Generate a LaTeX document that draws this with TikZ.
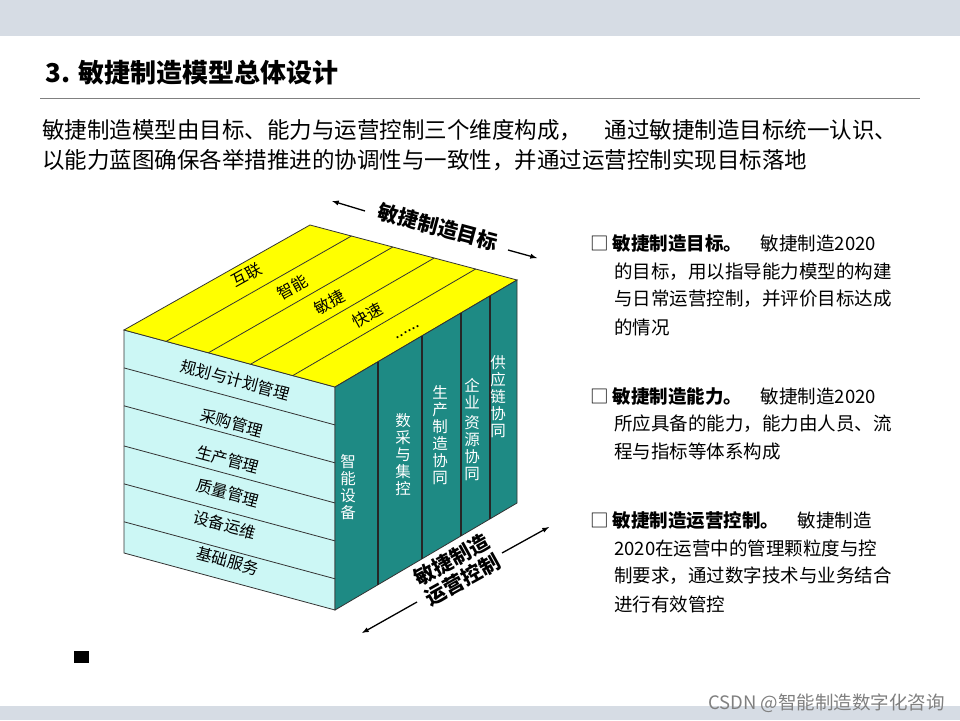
\documentclass[tikz,border=0pt]{standalone}
\usepackage{fontspec}
\setmainfont{Noto Sans CJK SC}
\usetikzlibrary{calc}
\definecolor{topbar}{HTML}{D6DCE4}
\definecolor{cyanf}{HTML}{CCF7F5}
\definecolor{tealf}{HTML}{1E8A84}
\definecolor{yel}{HTML}{FFFF00}
\begin{document}
\begin{tikzpicture}[x=1pt,y=-1pt,
  face/.style={draw=black!80,line width=0.8pt},
  frontlbl/.style={font=\fontsize{16}{18}\selectfont,rotate=-15,inner sep=0pt},
  toplbl/.style={font=\fontsize{16}{18}\selectfont,rotate=29,inner sep=0pt},
  vlbl/.style={font=\fontsize{15.5}{17}\selectfont,text=white,align=center,inner sep=0pt},
  body/.style={font=\fontsize{18.5}{20}\selectfont,anchor=west,inner sep=0pt},
  para/.style={font=\fontsize{22.5}{24}\selectfont,anchor=west,inner sep=0pt},
  dim/.style={font=\bfseries\fontsize{20.5}{23}\selectfont,align=center,inner sep=0pt},
  arr/.style={-latex,line width=1.3pt}]
\useasboundingbox (0,0) rectangle (960,720);
\fill[white] (0,0) rectangle (960,720);
\fill[topbar] (0,0) rectangle (960,36);
\fill[topbar] (0,706) rectangle (960,720);
\node[anchor=west,inner sep=0pt,font=\bfseries\fontsize{26}{28}\selectfont] (title) at (45,73) {3. 敏捷制造模型总体设计};
\draw[gray,line width=1pt] (40,98) -- (920,98);
\node[para] (p1) at (42,130) {敏捷制造模型由目标、能力与运营控制三个维度构成，\quad 通过敏捷制造目标统一认识、};
\node[para] (p2) at (42,160) {以能力蓝图确保各举措推进的协调性与一致性，并通过运营控制实现目标落地};
% cube
\coordinate (A) at (124,330); \coordinate (B) at (335,387);
\coordinate (C) at (335,610); \coordinate (D) at (124,553);
\coordinate (E) at (310,225); \coordinate (F) at (517,280);
\coordinate (G) at (517,503);
\filldraw[face,fill=cyanf] (A) -- (B) -- (C) -- (D) -- cycle;
\filldraw[face,fill=yel] (A) -- (E) -- (F) -- (B) -- cycle;
\filldraw[face,fill=tealf] (B) -- (F) -- (G) -- (C) -- cycle;
\foreach \t in {0.2,0.4,0.6,0.8}
  \draw[face] ($(A)!\t!(B)$) -- ($(E)!\t!(F)$);
\foreach \t in {0.17,0.34,0.52,0.69,0.86}
  \draw[face] ($(A)!\t!(D)$) -- ($(B)!\t!(C)$);
\foreach \t in {0.236,0.478,0.692,0.852}
  \draw[black!85,line width=1.2pt] ($(B)!\t!(F)$) -- ($(C)!\t!(G)$);
% top labels
\node[toplbl] (t1) at (247,275) {互联};
\node[toplbl] (t2) at (293,287) {智能};
\node[toplbl] (t3) at (330,302) {敏捷};
\node[toplbl] (t4) at (368,315) {快速};
\node[toplbl] (t5) at (408,332) {......};
% front labels
\node[frontlbl] (f1) at (235,380) {规划与计划管理};
\node[frontlbl] (f2) at (232,423) {采购管理};
\node[frontlbl] (f3) at (228,460) {生产管理};
\node[frontlbl] (f4) at (228,493) {质量管理};
\node[frontlbl] (f5) at (225,525) {设备运维};
\node[frontlbl] (f6) at (228,561) {基础服务};
% right labels
\node[vlbl] (r1) at (348,487) {智\\能\\设\\备};
\node[vlbl] (r2) at (403,455) {数\\采\\与\\集\\控};
\node[vlbl] (r3) at (440,435) {生\\产\\制\\造\\协\\同};
\node[vlbl] (r4) at (472,430) {企\\业\\[3pt]资\\源\\协\\同};
\node[vlbl] (r5) at (498,397) {供\\应\\链\\协\\同};
% dimension labels
\node[dim,rotate=-15] (goal) at (438,227) {敏捷制造目标};
\coordinate (g1) at (365,211); \coordinate (g2) at (332,201);
\coordinate (g3) at (508,250); \coordinate (g4) at (537,258);
\draw[arr] (g1) -- (g2);
\draw[arr] (g3) -- (g4);
\node[dim,rotate=29] (ops) at (457,570) {敏捷制造\\运营控制};
\coordinate (o1) at (417,602); \coordinate (o2) at (362,633);
\coordinate (o3) at (502,553); \coordinate (o4) at (549,527);
\draw[arr] (o1) -- (o2);
\draw[arr] (o3) -- (o4);
\fill[black] (74,651) rectangle (89,663);
% right text
\node[body] (b1) at (590,244) {□ \textbf{敏捷制造目标。}\quad 敏捷制造2020};
\node[body] (b1b) at (614,272) {的目标，用以指导能力模型的构建};
\node[body] (b1c) at (614,299) {与日常运营控制，并评价目标达成};
\node[body] (b1d) at (614,327) {的情况};
\node[body] (b2) at (590,396) {□ \textbf{敏捷制造能力。}\quad 敏捷制造2020};
\node[body] (b2b) at (614,424) {所应具备的能力，能力由人员、流};
\node[body] (b2c) at (614,451) {程与指标等体系构成};
\node[body] (b3) at (590,521) {□ \textbf{敏捷制造运营控制。}\quad 敏捷制造};
\node[body] (b3b) at (614,548) {2020在运营中的管理颗粒度与控};
\node[body] (b3c) at (614,576) {制要求，通过数字技术与业务结合};
\node[body] (b3d) at (614,604) {进行有效管控};
\node[anchor=east,inner sep=0pt,text=gray,font=\fontsize{18.5}{20}\selectfont] (wm) at (945,703) {CSDN @智能制造数字化咨询};
\end{tikzpicture}
\end{document}
